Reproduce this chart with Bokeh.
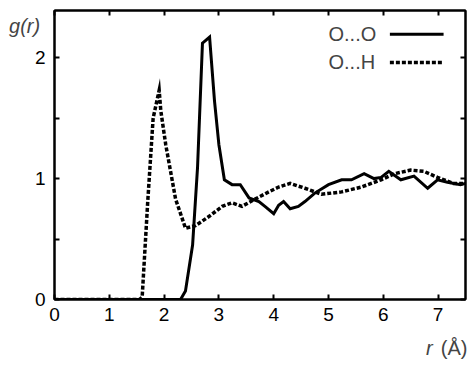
from bokeh.plotting import figure
from bokeh.models import LinearAxis, FixedTicker, Label, Range1d
from bokeh.embed import file_html
from bokeh.resources import INLINE

# O...O radial distribution (solid)
r_OO = [0.0, 2.30, 2.39, 2.52, 2.61, 2.70, 2.83, 2.92, 3.00, 3.10, 3.24, 3.39, 3.55, 3.73,
        3.84, 4.00, 4.09, 4.18, 4.30, 4.45, 4.57, 4.75, 5.00, 5.24, 5.42, 5.65, 5.83, 5.96,
        6.10, 6.32, 6.56, 6.81, 6.99, 7.17, 7.41, 7.50]
g_OO = [0.0, 0.0, 0.07, 0.45, 1.09, 2.12, 2.17, 1.64, 1.28, 0.99, 0.95, 0.95, 0.84, 0.81,
        0.77, 0.71, 0.78, 0.81, 0.75, 0.77, 0.81, 0.88, 0.95, 0.99, 0.99, 1.04, 1.00, 1.01,
        1.06, 0.99, 1.02, 0.92, 0.99, 0.97, 0.95, 0.96]

# O...H radial distribution (dashed)
r_OH = [0.0, 1.55, 1.60, 1.70, 1.80, 1.91, 1.94, 2.03, 2.21, 2.39, 2.57, 2.83, 3.06, 3.24,
        3.42, 3.66, 3.91, 4.09, 4.30, 4.57, 4.87, 5.24, 5.60, 5.96, 6.20, 6.50, 6.74, 6.99,
        7.28, 7.50]
g_OH = [0.0, 0.0, 0.02, 0.80, 1.50, 1.73, 1.56, 1.28, 0.83, 0.59, 0.61, 0.69, 0.77, 0.80,
        0.77, 0.83, 0.89, 0.93, 0.96, 0.92, 0.87, 0.89, 0.93, 0.99, 1.04, 1.07, 1.06, 1.01,
        0.96, 0.96]

x_ticks = [0, 1, 2, 3, 4, 5, 6, 7]
y_ticks = [0, 1, 2]
y_minor_ticks = [0.5, 1.5]
series_labels = ["O...O", "O...H"]

FONT = "Liberation Sans"

p = figure(width=474, height=367, output_backend="svg", toolbar_location=None,
           x_range=Range1d(0, 7.5), y_range=Range1d(0, 2.39),
           min_border_left=51, min_border_right=9, min_border_top=10, min_border_bottom=62,
           x_axis_location=None, y_axis_location=None)
p.grid.visible = False
p.outline_line_color = "black"
p.outline_line_width = 2
p.background_fill_color = "white"
p.border_fill_color = "white"

def style_axis(ax, ticks, minor, show_labels, standoff=8):
    ax.ticker = FixedTicker(ticks=ticks, minor_ticks=minor)
    ax.axis_line_width = 2
    ax.axis_line_color = "black"
    ax.major_tick_in = 5
    ax.major_tick_out = 0
    ax.major_tick_line_width = 2
    ax.minor_tick_in = 5
    ax.minor_tick_out = 0
    ax.minor_tick_line_width = 2
    ax.minor_tick_line_color = "black" if minor else None
    ax.major_label_text_font = FONT
    if show_labels:
        ax.major_label_text_font_size = "19px"
        ax.major_label_standoff = standoff
        ax.major_label_text_color = "black"
    else:
        ax.major_label_text_font_size = "1px"
        ax.major_label_standoff = 0
        ax.major_label_text_color = None

bx = LinearAxis(); style_axis(bx, x_ticks, [], True, 8); p.add_layout(bx, "below")
lx = LinearAxis(); style_axis(lx, y_ticks, y_minor_ticks, True, 9); p.add_layout(lx, "left")
tx = LinearAxis(); style_axis(tx, x_ticks, [], False); p.add_layout(tx, "above")
rx = LinearAxis(); style_axis(rx, y_ticks, y_minor_ticks, False); p.add_layout(rx, "right")

p.line(r_OO, g_OO, line_color="black", line_width=3, line_join="miter")
p.line(r_OH, g_OH, line_color="black", line_width=3.5, line_dash="4 2", line_join="miter")

# legend (label then sample line)
p.segment(x0=[6.12], y0=[2.194], x1=[7.10], y1=[2.194], line_color="black", line_width=3)
p.segment(x0=[6.12], y0=[1.96], x1=[7.10], y1=[1.96], line_color="black", line_width=3.5,
          line_dash="4 2")
for lab, yy in zip(series_labels, [2.194, 1.96]):
    p.add_layout(Label(x=5.0, y=yy, text=lab, text_font=FONT, text_font_size="20px",
                       text_baseline="middle", text_align="left"))

# axis titles (placed in side panels so they are not clipped to the frame)
p.add_layout(Label(x=-0.83, y=2.26, text="g(r)", text_font=FONT, text_font_size="20px",
                   text_font_style="italic", text_baseline="middle", text_align="left"), "left")
p.add_layout(Label(x=6.78, y=-0.40, text="r", text_font=FONT, text_font_size="20px",
                   text_font_style="italic", text_baseline="middle", text_align="left"), "below")
p.add_layout(Label(x=7.05, y=-0.40, text="(Å)", text_font=FONT, text_font_size="20px",
                   text_baseline="middle", text_align="left"), "below")

open("out.html", "w").write(file_html(p, INLINE))
